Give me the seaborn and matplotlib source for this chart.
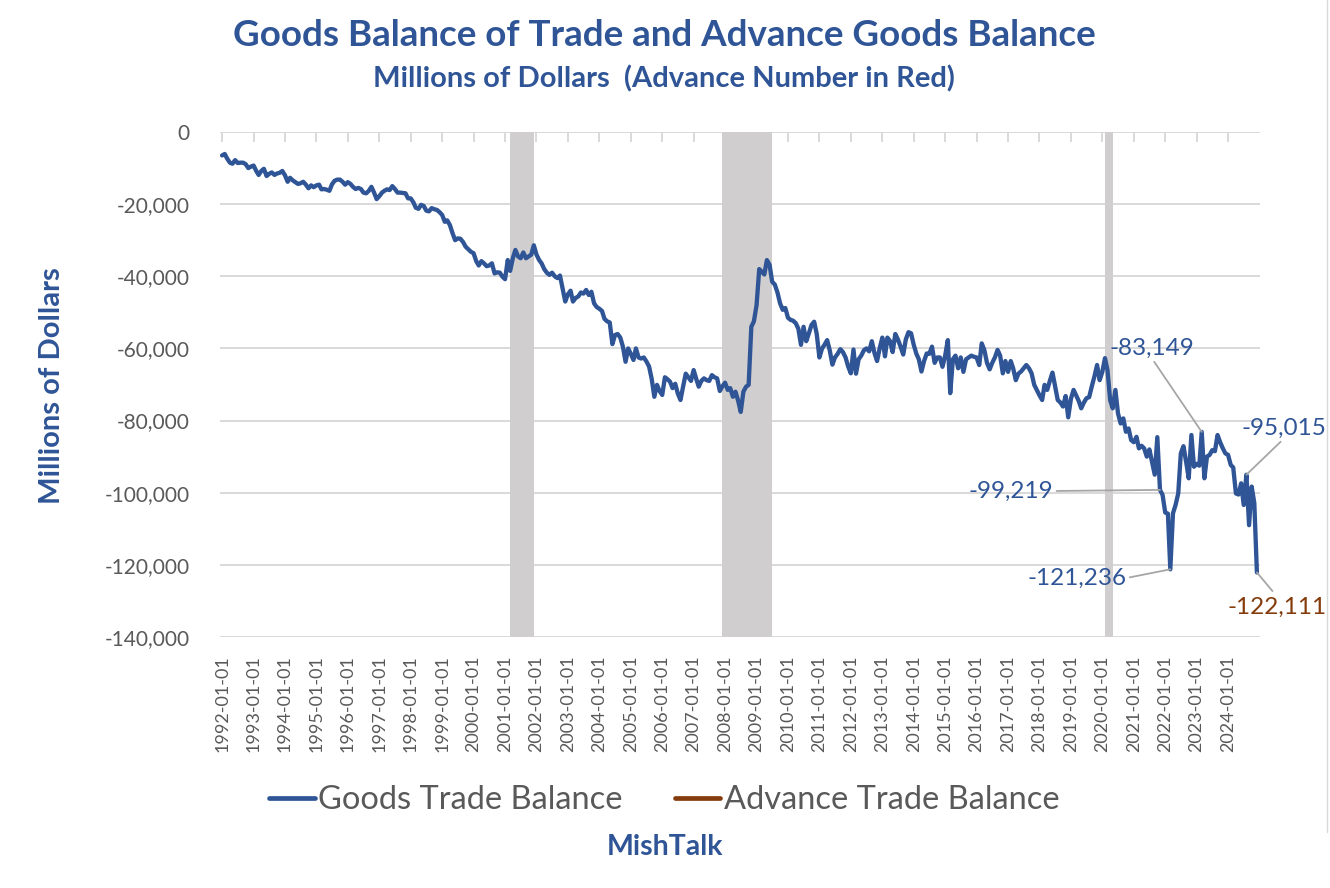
import pandas as pd
import numpy as np
import matplotlib
matplotlib.use("Agg")
import matplotlib.pyplot as plt
import matplotlib.dates as mdates
from matplotlib.ticker import FuncFormatter
from matplotlib.lines import Line2D
import seaborn as sns

# monthly goods balance of trade, millions of dollars
bal_1990s = [
    -6500, -6100, -7400, -8500, -8800, -7800, -8600, -8500, -8500, -8900, -10000, -9600,        # 1992
    -9300, -10800, -11900, -10800, -10200, -12200, -11600, -11200, -11900, -11500, -11300, -10800,  # 1993
    -12000, -13800, -12700, -13400, -13900, -14400, -14200, -13800, -14600, -15600, -14800, -15300,  # 1994
    -14800, -14600, -15900, -15800, -16000, -16300, -14500, -13500, -13200, -13200, -13800, -14600,  # 1995
    -13900, -14400, -15200, -15800, -15500, -15800, -16800, -17000, -16300, -15200, -16800, -18600,  # 1996
    -17800, -16800, -16300, -15900, -16100, -15000, -15800, -16800, -16800, -16900, -17000, -18400,  # 1997
    -18400, -19500, -21000, -21300, -20200, -20500, -21800, -22000, -21100, -21400, -21600, -22200,  # 1998
    -23000, -24900, -24500, -25800, -28000, -30000, -29500, -29600, -30500, -31800, -32500, -33200,  # 1999
]
bal_2000s = [
    -33600, -35800, -37000, -35800, -36400, -37200, -37000, -36400, -39200, -38900, -39000, -40100,  # 2000
    -40800, -35500, -38500, -35000, -32700, -34500, -35000, -33400, -35000, -34500, -34000, -31400,  # 2001
    -34000, -35500, -36400, -38000, -39000, -39600, -39000, -40000, -40500, -39800, -43500, -47000,  # 2002
    -45000, -44000, -47000, -46000, -45600, -44500, -44800, -43800, -45200, -44300, -47500, -48500,  # 2003
    -49000, -49600, -51800, -52500, -52800, -58800, -56300, -56000, -57000, -59500, -63700, -60000,  # 2004
    -61500, -63200, -60000, -62500, -62800, -62500, -63600, -65000, -68500, -73400, -70100, -71800,  # 2005
    -72900, -68000, -68500, -69200, -71000, -69800, -72500, -74300, -70500, -67000, -68000, -69000,  # 2006
    -66000, -68500, -70600, -69000, -68300, -68800, -69000, -67400, -68000, -68300, -71800, -70500,  # 2007
    -69500, -71500, -71000, -73400, -72000, -74500, -77600, -72000, -70600, -70100, -54000, -52500,  # 2008
    -48000, -38000, -38700, -39500, -35500, -36800, -41500, -42300, -44500, -47500, -49300, -48800,  # 2009
]
bal_2010s = [
    -51500, -52100, -52300, -53000, -54500, -59000, -54000, -58000, -55800, -53500, -52600, -56000,  # 2010
    -62500, -60000, -59000, -57700, -60500, -64500, -62500, -61500, -60200, -61000, -62500, -65000,  # 2011
    -66900, -60300, -67000, -63000, -62000, -60500, -60000, -60800, -58000, -61200, -63500, -60000,  # 2012
    -57000, -62200, -57000, -58000, -61000, -56000, -57500, -59500, -61700, -57500, -55500, -55800,  # 2013
    -59000, -61500, -63000, -66400, -63500, -61400, -61500, -59500, -64000, -62500, -62500, -65100,  # 2014
    -62000, -57700, -72400, -63000, -62000, -65500, -62500, -66500, -63000, -62500, -62000, -62300,  # 2015
    -62500, -64600, -58600, -60500, -64000, -65800, -64000, -62500, -60400, -62000, -66900, -63500,  # 2016
    -66500, -63500, -65500, -68800, -67000, -66400, -65500, -64600, -65500, -66900, -70100, -71500,  # 2017
    -73000, -74300, -70100, -71500, -69000, -66700, -70500, -74300, -75000, -76100, -73200, -79100,  # 2018
    -74000, -71500, -72900, -74500, -76600, -75000, -73800, -73500, -70500, -67800, -64600, -68800,  # 2019
]
bal_2020s = [
    -66500, -62700, -66000, -74300, -76600, -71500, -78000, -80800, -79400, -83100, -82200, -85400,  # 2020
    -86000, -84500, -87700, -87000, -87700, -90000, -88000, -91500, -95000, -84600, -99219, -100600,  # 2021
    -105500, -105800, -121236, -105700, -103400, -100200, -89100, -87100, -91500, -96000, -84000, -92800,  # 2022
    -92000, -92500, -83149, -96000, -90000, -89500, -88200, -88500, -84000, -86000, -87700, -89100,  # 2023
    -89500, -92300, -93000, -100200, -100500, -97400, -103400, -95015, -109000, -98300, -102900, -122111,  # 2024
]
first_month = "1992-01-01"

advance_month = ["2024-12-01"]
advance_value = [-122111]

recessions = [("2001-03-01", "2001-11-30"),
              ("2007-12-01", "2009-06-30"),
              ("2020-02-01", "2020-04-30")]

# months that get a value callout
callouts = ["2023-03-01", "2024-08-01", "2021-11-01", "2022-03-01"]

blue = "#2f5597"
brown = "#843c0c"
grey_txt = "#595959"
grid_c = "#d9d9d9"

goods = bal_1990s + bal_2000s + bal_2010s + bal_2020s
goods_df = pd.DataFrame({
    "date": pd.date_range(first_month, periods=len(goods), freq="MS"),
    "balance": goods,
})
adv_df = pd.DataFrame({"date": pd.to_datetime(advance_month), "balance": advance_value})

sns.set_theme(style="white")
plt.rcParams["font.family"] = ["Lato", "DejaVu Sans"]

W, H = 1330, 888
fig = plt.figure(figsize=(W / 100, H / 100), dpi=100)
ax = fig.add_axes([220 / W, 1 - 637 / H, 1040 / W, 505 / H])

for s, e in recessions:
    ax.axvspan(pd.Timestamp(s), pd.Timestamp(e), color="#d0cece", lw=0, zorder=1)

sns.lineplot(data=goods_df, x="date", y="balance", color=blue, linewidth=3.1,
             ax=ax, label="Goods Trade Balance", zorder=3)
sns.lineplot(data=adv_df, x="date", y="balance", color=brown, linewidth=3.1,
             ax=ax, label="Advance Trade Balance", zorder=3)

ax.set_ylim(-140000, 0)
ax.set_xlim(pd.Timestamp("1991-12-08"), pd.Timestamp("2025-01-06"))
ax.set_yticks(np.arange(-140000, 1, 20000))
ax.yaxis.set_major_formatter(FuncFormatter(lambda v, _: f"{v:,.0f}"))
ax.set_xticks(pd.date_range("1992-01-01", "2024-01-01", freq="YS"))
ax.xaxis.set_major_formatter(mdates.DateFormatter("%Y-%m-%d"))

ax.set_axisbelow(True)
ax.yaxis.grid(True, color=grid_c, lw=1.4)
ax.xaxis.grid(False)
for sp in ax.spines.values():
    sp.set_visible(False)

ax.tick_params(axis="y", length=0, pad=22, labelsize=15, labelcolor=grey_txt)
ax.tick_params(axis="x", top=True, bottom=False, direction="in", length=7, width=1.4,
               color=grid_c, labelbottom=True, labeltop=False, pad=13,
               labelsize=13, labelcolor=grey_txt, labelrotation=90)

ax.set_xlabel("")
ax.set_ylabel("Millions of Dollars", fontsize=21, fontweight="bold", color=blue)
ax.yaxis.set_label_coords(-0.149, 0.497)

# callouts
text_pos = {
    "2023-03-01": ((1152, 348), (0.5, 0.0)),
    "2024-08-01": ((1284, 428), (0.5, 0.0)),
    "2021-11-01": ((1011, 491), (1.0, 0.5)),
    "2022-03-01": ((1077, 578), (1.0, 0.5)),
}
lookup = goods_df.set_index("date")["balance"]
for d in callouts:
    v = lookup[pd.Timestamp(d)]
    (tx, ty), rp = text_pos[d]
    ax.annotate(f"{v:,}", xy=(pd.Timestamp(d), v), xytext=(tx, H - ty),
                textcoords="figure pixels", ha="center", va="center",
                fontsize=17.5, color=blue,
                arrowprops=dict(arrowstyle="-", color="#a6a6a6", lw=1.3,
                                shrinkA=0, shrinkB=0, relpos=rp))
av = adv_df["balance"].iloc[0]
ax.annotate(f"{av:,}", xy=(adv_df["date"].iloc[0], av), xytext=(1277, H - 607),
            textcoords="figure pixels", ha="center", va="center",
            fontsize=17.5, color=brown,
            arrowprops=dict(arrowstyle="-", color="#a6a6a6", lw=1.3,
                            shrinkA=2, shrinkB=0, relpos=(0.5, 1.0)))

# legend
handles, labels = ax.get_legend_handles_labels()
ax.get_legend().remove()
leg = fig.legend(handles, labels, loc="center", bbox_to_anchor=(664 / W, 1 - 800 / H),
                 ncol=2, frameon=False, fontsize=23.5, handlelength=1.4,
                 handletextpad=0.1, columnspacing=1.6)
for t in leg.get_texts():
    t.set_color(grey_txt)
for h in leg.legend_handles:
    h.set_linewidth(3.4)

fig.text(664 / W, 1 - 36 / H, "Goods Balance of Trade and Advance Goods Balance",
         ha="center", va="center", fontsize=26.5, fontweight="bold", color=blue)
fig.text(664 / W, 1 - 79 / H, "Millions of Dollars  (Advance Number in Red)",
         ha="center", va="center", fontsize=21, fontweight="bold", color=blue)
fig.text(665 / W, 1 - 847 / H, "MishTalk", ha="center", va="center",
         fontsize=20.5, fontweight="bold", color=blue)

fig.add_artist(Line2D([1327 / W, 1327 / W], [1 - 832 / H, 1], transform=fig.transFigure,
                      color=grid_c, lw=1))

fig.savefig("out.png", dpi=100)
